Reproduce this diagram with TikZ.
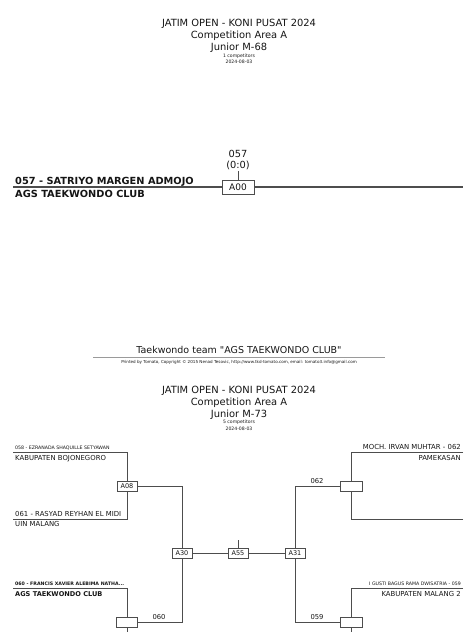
\documentclass[tikz,border=0pt]{standalone}
\usepackage{fontspec}
\setmainfont{DejaVu Sans}
\usepackage{tikz}
\usetikzlibrary{positioning}
\definecolor{ink}{HTML}{151515}
\definecolor{wirec}{HTML}{4D4D4D}
\definecolor{rulec}{HTML}{9A9A9A}

\begin{document}
\begin{tikzpicture}[
  x=1pt,y=-1pt,
  title/.style={font=\fontsize{9.9}{11}\selectfont,text=ink,inner sep=0,anchor=base},
  small/.style={font=\fontsize{4.6}{5}\selectfont,text=ink,inner sep=0,anchor=base},
  slot/.style={draw=wirec,fill=white,line width=0.8pt,minimum width=20pt,minimum height=10pt,inner sep=0,font=\fontsize{6.5}{7}\selectfont,text=ink},
  wire/.style={draw=wirec,line width=0.9pt},
  player/.style={font=\fontsize{6.9}{8}\selectfont,text=ink,inner sep=0},
  tinyname/.style={font=\fontsize{4.7}{5}\selectfont,text=ink,inner sep=0},
  score/.style={font=\fontsize{6.8}{8}\selectfont,text=ink,inner sep=0,anchor=base}
]
\useasboundingbox (0,0) rectangle (474,632);

% first sheet
\node[title] (t1a) at (239,26.5) {JATIM OPEN - KONI PUSAT 2024};
\node[title] (t1b) at (239,38.5) {Competition Area A};
\node[title] (t1c) at (239,50) {Junior M-68};
\node[small] (t1d) at (239,57) {1 competitors};
\node[small] (t1e) at (239,63.5) {2024-08-03};

\node[draw=wirec,fill=white,line width=0.8pt,minimum width=32pt,minimum height=14pt,inner sep=0,font=\fontsize{9}{10}\selectfont,text=ink] (a00) at (238,187) {A00};
\node[font=\fontsize{9.8}{11}\selectfont,text=ink,inner sep=0,anchor=base] (w057) at (238,157) {057};
\node[font=\fontsize{9.8}{11}\selectfont,text=ink,inner sep=0,anchor=base] (s057) at (238,168) {(0:0)};
\coordinate (tick0) at (238,171);
\coordinate (from057) at (13,187);
\coordinate (to057) at (463,187);
\draw[wire,line width=1.2pt] (from057) -- (a00.west);
\draw[wire,line width=1.2pt] (a00.east) -- (to057);
\draw[wire] (a00.north) -- (tick0);
\node[font=\bfseries\fontsize{9.8}{11}\selectfont,text=ink,inner sep=0,anchor=base west] (n057) at (15,184.5) {057 - SATRIYO MARGEN ADMOJO};
\node[font=\bfseries\fontsize{9.8}{11}\selectfont,text=ink,inner sep=0,anchor=base west] (c057) at (15,197) {AGS TAEKWONDO CLUB};

% footer
\node[font=\fontsize{9.5}{11}\selectfont,text=ink,inner sep=0,anchor=base] (team) at (239,353) {Taekwondo team \textquotedbl AGS TAEKWONDO CLUB\textquotedbl};
\coordinate (rl) at (93,357);
\coordinate (rr) at (385,357);
\draw[draw=rulec,line width=0.7pt] (rl) -- (rr);
\node[font=\fontsize{4.1}{5}\selectfont,text=ink,inner sep=0,anchor=base] (print) at (239,363) {Printed by Tomato, Copyright \textcopyright{} 2015 Nenad Tesovic, http://www.tkd-tomato.com, email: tomato3.info@gmail.com};

% second sheet
\node[title] (t2a) at (239,393) {JATIM OPEN - KONI PUSAT 2024};
\node[title] (t2b) at (239,405.5) {Competition Area A};
\node[title] (t2c) at (239,417) {Junior M-73};
\node[small] (t2d) at (239,423.5) {5 competitors};
\node[small] (t2e) at (239,430) {2024-08-03};

% slots
\node[slot] (a08) at (127,486) {A08};
\node[slot] (a30) at (182,553) {A30};
\node[slot] (a55) at (238,553) {A55};
\node[slot] (a31) at (295,553) {A31};
\node[slot,minimum width=22pt] (m062) at (351,486) {};
\node[slot,minimum width=21pt] (m060) at (127,622) {};
\node[slot,minimum width=22pt] (m059) at (351,622) {};

% player lines
\coordinate (p058) at (13,452);
\coordinate (p061) at (13,519);
\coordinate (p060) at (13,588);
\coordinate (p062) at (463,452);
\coordinate (q062) at (463,519);
\coordinate (p059) at (463,588);
\coordinate (e060) at (127,632);
\coordinate (e059) at (351,632);
\coordinate (tick1) at (238,540);

\draw[wire] (p058) -| (a08.north);
\draw[wire] (p061) -| (a08.south);
\draw[wire] (p060) -| (m060.north);
\draw[wire] (m060.south) -- (e060);
\draw[wire] (p062) -| (m062.north);
\draw[wire] (q062) -| (m062.south);
\draw[wire] (p059) -| (m059.north);
\draw[wire] (m059.south) -- (e059);

\draw[wire] (a08.east) -| (a30.north);
\draw[wire] (m060.east) -| (a30.south);
\draw[wire] (m062.west) -| (a31.north);
\draw[wire] (m059.west) -| (a31.south);
\draw[wire] (a30) -- (a55);
\draw[wire] (a55) -- (a31);
\draw[wire] (a55.north) -- (tick1);

\node[score] (s062) at (317,483) {062};
\node[score] (s060) at (159,619) {060};
\node[score] (s059) at (317,619) {059};

% names
\node[tinyname,anchor=base west] (n058) at (15,449.5) {058 - EZRANADA SHAQUILLE SETYAWAN};
\node[player,anchor=base west] (c058) at (15,460) {KABUPATEN BOJONEGORO};
\node[player,anchor=base west] (n061) at (15,516.5) {061 - RASYAD REYHAN EL MIDI};
\node[player,anchor=base west] (c061) at (15,526.5) {UIN MALANG};
\node[tinyname,font=\bfseries\fontsize{4.7}{5}\selectfont,anchor=base west] (n060) at (15,585.5) {060 - FRANCIS XAVIER ALEBIMA NATHA...};
\node[player,font=\bfseries\fontsize{6.6}{8}\selectfont,anchor=base west] (c060) at (15,596) {AGS TAEKWONDO CLUB};
\node[player,anchor=base east] (n062) at (461,449.5) {MOCH. IRVAN MUHTAR - 062};
\node[player,anchor=base east] (c062) at (461,460) {PAMEKASAN};
\node[tinyname,anchor=base east] (n059) at (461,585.5) {I GUSTI BAGUS RAMA DWISATRIA - 059};
\node[player,anchor=base east] (c059) at (461,596.5) {KABUPATEN MALANG 2};
\end{tikzpicture}
\end{document}
